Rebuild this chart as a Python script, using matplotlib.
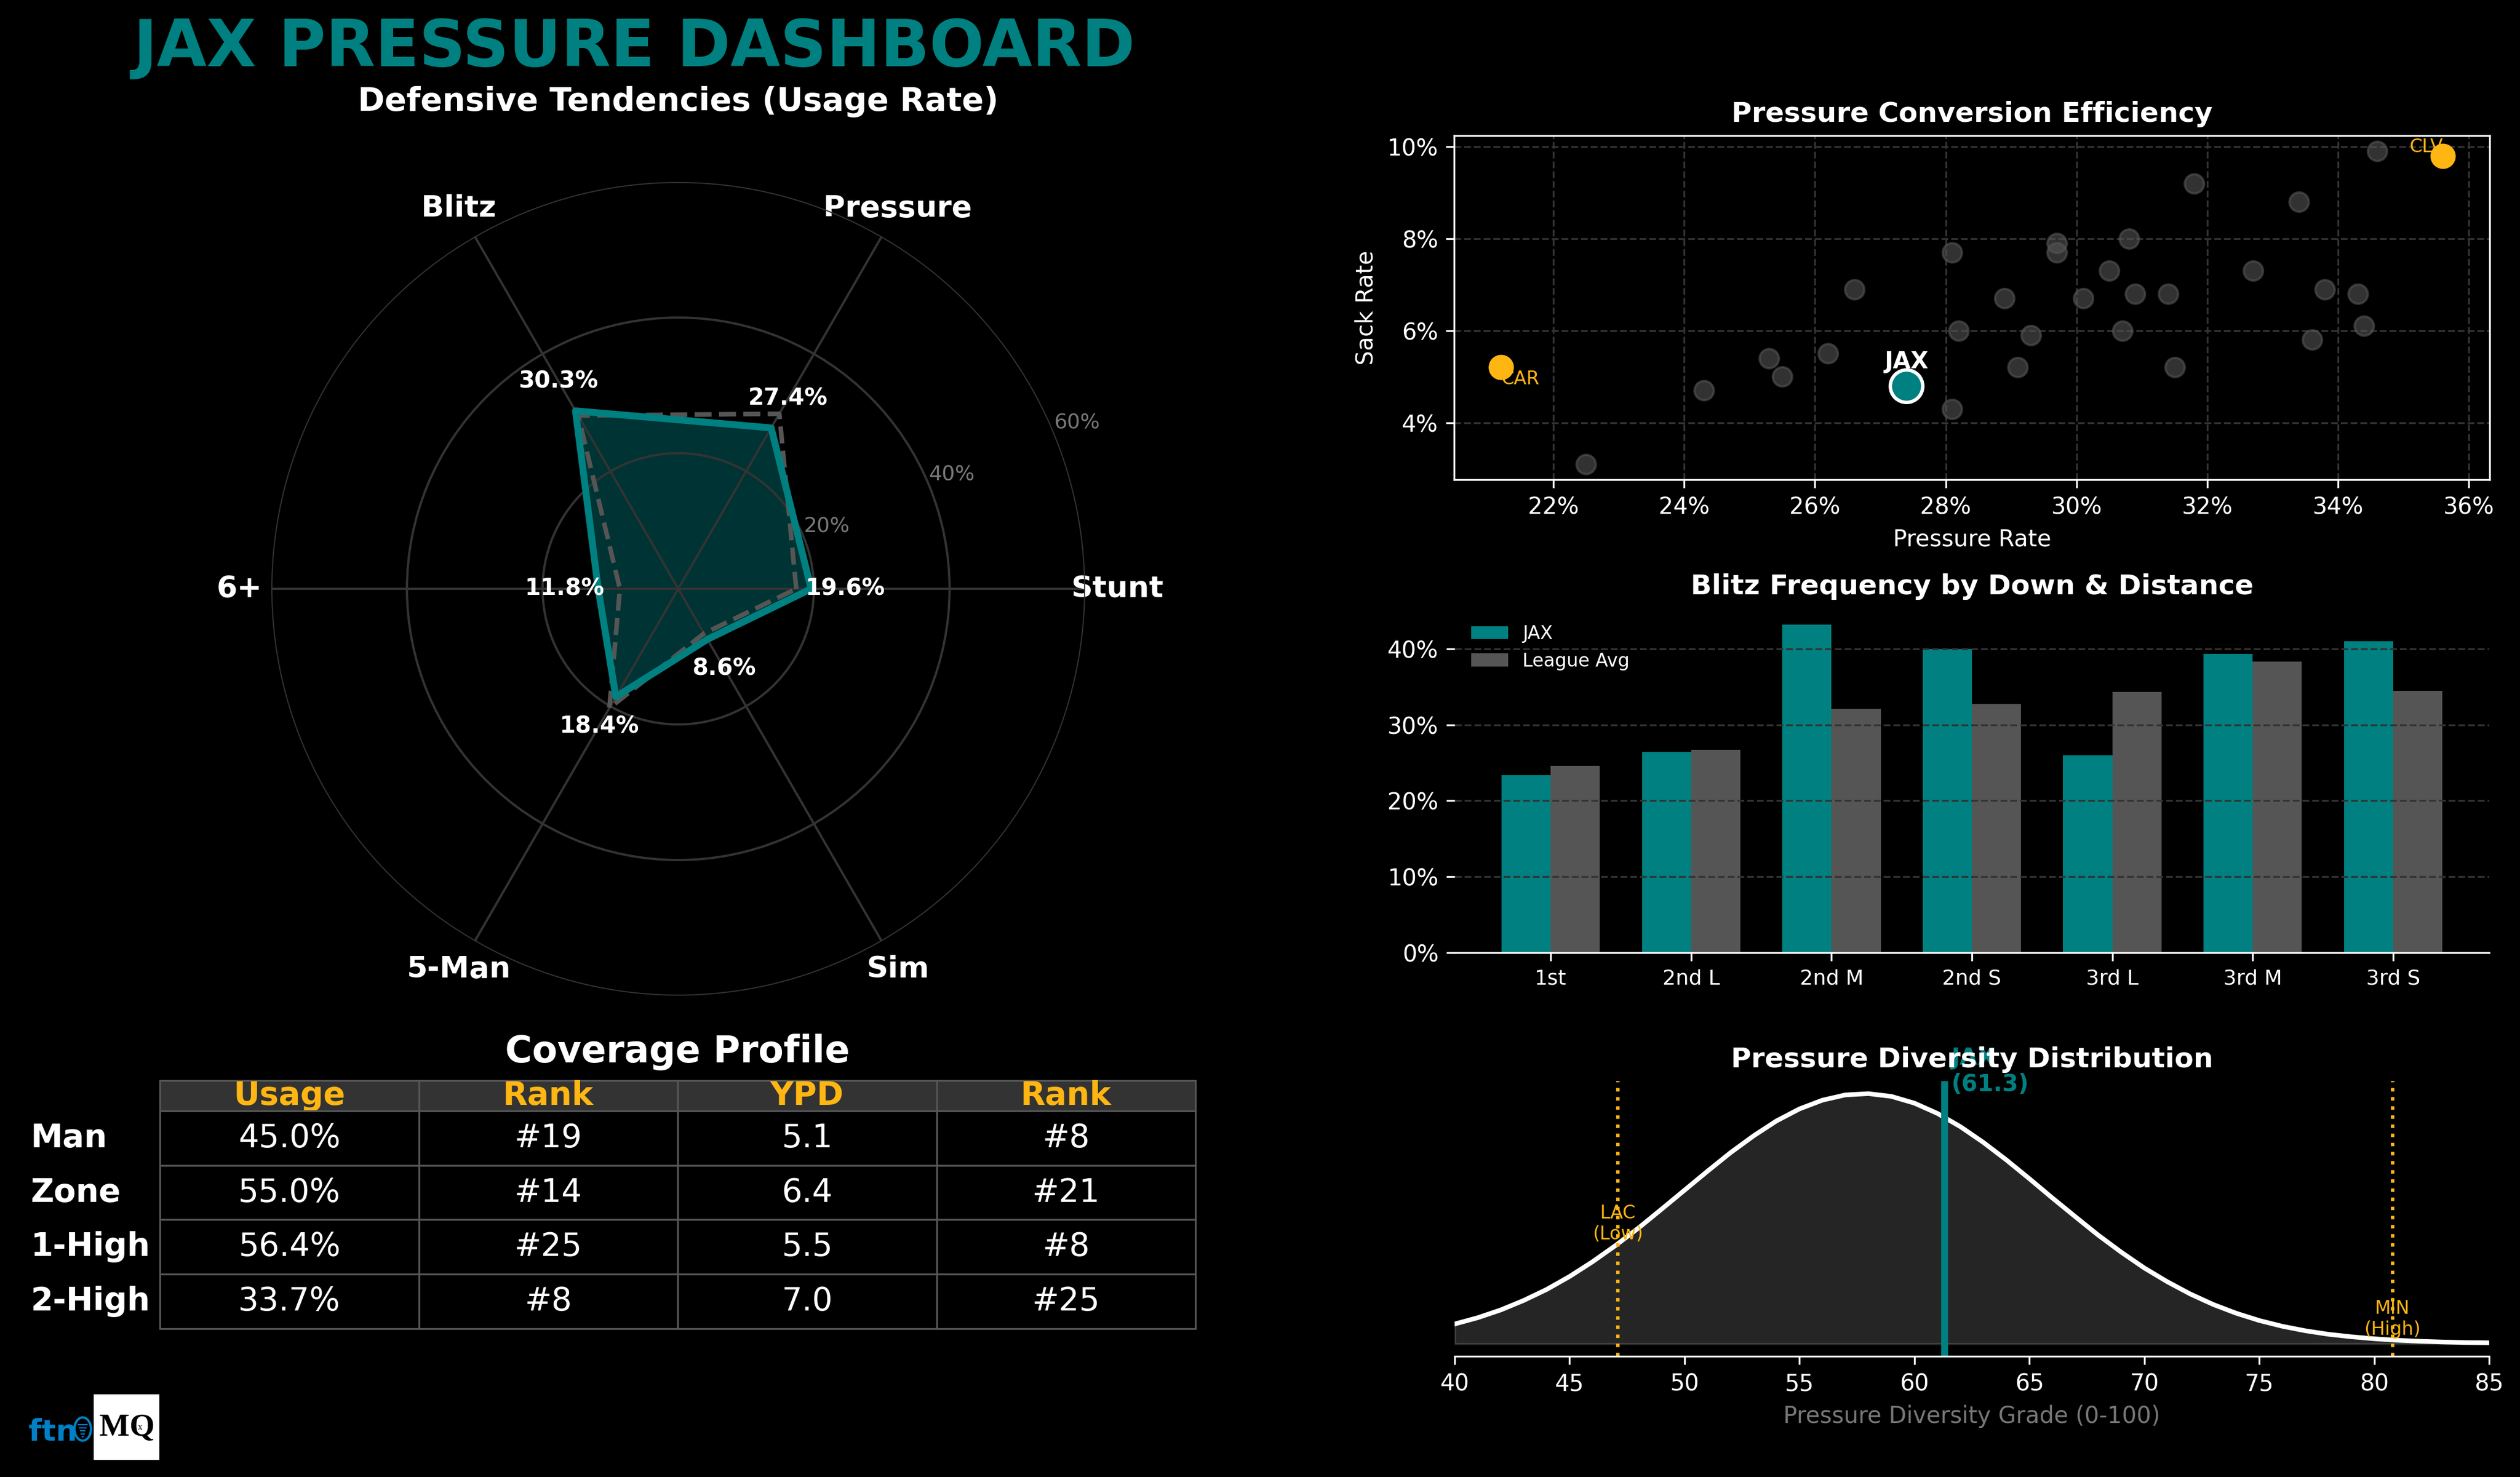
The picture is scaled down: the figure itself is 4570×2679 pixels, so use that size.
import numpy as np
import matplotlib
matplotlib.use("Agg")
from matplotlib import pyplot as plt
from matplotlib.patches import Ellipse, Rectangle
from matplotlib.ticker import FuncFormatter

TEAL = "#008080"
GOLD = "#FFB612"
GRID = "#333333"

# radar
radar_labels = ["Stunt", "Pressure", "Blitz", "6+", "5-Man", "Sim"]
jax_usage = [19.6, 27.4, 30.3, 11.8, 18.4, 8.6]
league_usage = [17.4, 29.8, 29.5, 8.6, 20.3, 7.6]

# scatter
other_pressure = [22.5, 24.3, 25.3, 25.5, 26.2, 26.6, 28.1, 28.2, 28.1, 28.9, 29.1, 29.3, 29.7, 29.7, 30.1,
                  30.5, 30.7, 30.8, 30.9, 31.4, 31.5, 31.8, 32.7, 33.4, 33.6, 33.8, 34.3, 34.4, 34.6]
other_sack = [3.1, 4.7, 5.4, 5.0, 5.5, 6.9, 7.7, 6.0, 4.3, 6.7, 5.2, 5.9, 7.9, 7.7, 6.7,
              7.3, 6.0, 8.0, 6.8, 6.8, 5.2, 9.2, 7.3, 8.8, 5.8, 6.9, 6.8, 6.1, 9.9]
car_point = (21.2, 5.2)
clv_point = (35.6, 9.8)
jax_point = (27.4, 4.8)

# bars
downs = ["1st", "2nd L", "2nd M", "2nd S", "3rd L", "3rd M", "3rd S"]
jax_blitz = [23.4, 26.4, 43.2, 40.0, 26.0, 39.3, 41.0]
league_blitz = [24.6, 26.7, 32.1, 32.7, 34.3, 38.3, 34.5]

# table
cov_rows = ["Man", "Zone", "1-High", "2-High"]
cov_cols = ["Usage", "Rank", "YPD", "Rank"]
cov_cells = [["45.0%", "#19", "5.1", "#8"],
             ["55.0%", "#14", "6.4", "#21"],
             ["56.4%", "#25", "5.5", "#8"],
             ["33.7%", "#8", "7.0", "#25"]]

grade = list(range(40, 86))
density = [.079, .104, .135, .173, .217, .269, .328, .393, .463, .538, .614, .690, .764, .831, .891, .939,
           .974, .995, 1.0, .989, .962, .921, .868, .805, .735, .660, .583, .508, .434, .366, .303, .248,
           .199, .157, .122, .093, .070, .052, .038, .028, .020, .014, .010, .007, .005, .004]
jax_grade = 61.3
lac_grade = 47.1
min_grade = 80.8

W, H = 4570, 2679
plt.rcParams["savefig.facecolor"] = "black"
fig = plt.figure(figsize=(W / 300, H / 300), dpi=300, facecolor="black")


def add_axes(left, top, right, bottom, **kwargs):
    """Axes from pixel edges of the picture"""
    ax = fig.add_axes([left / W, 1 - bottom / H, (right - left) / W, (bottom - top) / H], **kwargs)
    ax.set_facecolor("black")
    return ax


pct = FuncFormatter(lambda v, _: "%d%%" % v)

fig.text(1150 / W, 1 - 88 / H, "JAX PRESSURE DASHBOARD", color=TEAL, fontsize=28, fontweight="bold",
         ha="center", va="center")

# Radar
ax = add_axes(491, 330, 1969, 1806, projection="polar")
angles = np.deg2rad(np.arange(len(radar_labels)) * 60.0)
closed = np.append(angles, angles[0])
ax.plot(closed, league_usage + league_usage[:1], color="#555555", lw=2, ls="--")
ax.plot(closed, jax_usage + jax_usage[:1], color=TEAL, lw=3)
ax.fill(closed, jax_usage + jax_usage[:1], color=TEAL, alpha=0.4, lw=0)
for a, v in zip(angles, jax_usage):
    ax.text(a, v + 5, "%.1f%%" % v, color="white", fontsize=10, fontweight="bold", ha="center", va="center")
ax.set_ylim(0, 60)
ax.set_yticks([20, 40, 60])
ax.set_yticklabels(["20%", "40%", "60%"], color="#777777", fontsize=9)
ax.set_xticks(angles)
ax.set_xticklabels(radar_labels, color="white", fontsize=13, fontweight="bold")
ax.grid(color=GRID, lw=1)
ax.spines["polar"].set_visible(False)
ax.set_title("Defensive Tendencies (Usage Rate)", color="white", fontsize=14, fontweight="bold", pad=31)

# Scatter
ax = add_axes(2637, 246, 4515, 870)
ax.scatter(other_pressure, other_sack, s=70, color="#555555", alpha=0.6)
ax.scatter(*car_point, s=100, color=GOLD, zorder=3)
ax.scatter(*clv_point, s=100, color=GOLD, zorder=3)
ax.scatter(*jax_point, s=200, color=TEAL, edgecolor="white", linewidth=1.5, zorder=4)
ax.annotate("CAR", car_point, xytext=(0, -5), textcoords="offset points", color=GOLD, fontsize=8, va="center")
ax.annotate("CLV", clv_point, xytext=(0, 4), textcoords="offset points", color=GOLD, fontsize=8, ha="right",
            va="center")
ax.annotate("JAX", jax_point, xytext=(0, 5.5), textcoords="offset points", color="white", fontsize=10,
            fontweight="bold", ha="center", va="bottom")
ax.xaxis.set_major_formatter(pct)
ax.yaxis.set_major_formatter(pct)
ax.grid(color=GRID, ls="--", lw=0.8)
ax.set_axisbelow(True)
ax.tick_params(colors="white", labelsize=10)
for spine in ax.spines.values():
    spine.set_color("white")
ax.set_xlabel("Pressure Rate", color="white", fontsize=10)
ax.set_ylabel("Sack Rate", color="white", fontsize=10)
ax.set_title("Pressure Conversion Efficiency", color="white", fontsize=12, fontweight="bold")

# Bars
ax = add_axes(2638, 1103, 4514, 1728)
x = np.arange(len(downs))
ax.bar(x - 0.175, jax_blitz, 0.35, color=TEAL, label="JAX")
ax.bar(x + 0.175, league_blitz, 0.35, color="#555555", label="League Avg")
ax.set_xticks(x)
ax.set_xticklabels(downs)
ax.yaxis.set_major_formatter(pct)
ax.set_yticks([0, 10, 20, 30, 40])
ax.grid(axis="y", color=GRID, ls="--", lw=0.8)
ax.tick_params(axis="x", colors="white", labelsize=9)
ax.tick_params(axis="y", colors="white", labelsize=10)
for name in ["top", "right", "left"]:
    ax.spines[name].set_visible(False)
ax.spines["bottom"].set_color("white")
ax.legend(loc="upper left", frameon=False, labelcolor="white", fontsize=8)
ax.set_title("Blitz Frequency by Down & Distance", color="white", fontsize=12, fontweight="bold")

# Table, cell sizes in axes units so the auto sized row label column stays in step
ax = add_axes(290, 1960, 2168, 2410)
ax.axis("off")
tab = ax.table(cellText=cov_cells, rowLabels=cov_rows, colLabels=cov_cols, cellLoc="center", rowLoc="left",
               bbox=[0, 0, 1, 1])
tab.auto_set_font_size(False)
tab.set_fontsize(14)
for (r, c), cell in tab.get_celld().items():
    cell.set_height(55.0 / 450 if r == 0 else 99.0 / 450)
    if c >= 0:
        cell.set_width(0.25)
    cell.set_linewidth(0.8)
    if r == 0:
        cell.set_facecolor("#333333")
        cell.set_edgecolor("#555555")
        cell.get_text().set_color(GOLD)
        cell.get_text().set_fontweight("bold")
    elif c == -1:
        cell.set_facecolor("black")
        cell.set_edgecolor("black")
        cell.get_text().set_color("white")
        cell.get_text().set_fontweight("bold")
    else:
        cell.set_facecolor("black")
        cell.set_edgecolor("#555555")
        cell.get_text().set_color("white")
ax.set_title("Coverage Profile", color="white", fontsize=16, fontweight="bold", pad=8)

# Diversity distribution
ax = add_axes(2638, 1961, 4514, 2460)
ax.fill_between(grade, 0, density, color="white", alpha=0.15)
ax.plot(grade, density, color="white", lw=2)
ax.set_xlim(40, 85)
ax.set_ylim(-0.05, 1.05)
ax.axvline(jax_grade, color=TEAL, lw=3)
ax.axvline(lac_grade, color=GOLD, lw=1.5, ls=":")
ax.axvline(min_grade, color=GOLD, lw=1.5, ls=":")
ax.text(jax_grade + 0.3, 1.09, "JAX\n(%.1f)" % jax_grade, color=TEAL, fontsize=10, fontweight="bold",
        ha="left", va="center", clip_on=False)
ax.text(lac_grade, 0.48, "LAC\n(Low)", color=GOLD, fontsize=8, ha="center", va="center")
ax.text(min_grade, 0.098, "MIN\n(High)", color=GOLD, fontsize=8, ha="center", va="center")
ax.set_yticks([])
ax.tick_params(axis="x", colors="white", labelsize=10)
for name in ["top", "right", "left"]:
    ax.spines[name].set_visible(False)
ax.spines["bottom"].set_color("white")
ax.set_xlabel("Pressure Diversity Grade (0-100)", color="#777777", fontsize=10)
ax.set_title("Pressure Diversity Distribution", color="white", fontsize=12, fontweight="bold")

# Logos, in picture pixels
logo = fig.add_axes([0, 0, 1, 1], zorder=10)
logo.set_xlim(0, W)
logo.set_ylim(H, 0)
logo.axis("off")
logo.text(52, 2613, "ftn", color="#0080C6", fontsize=13, fontweight="bold", va="baseline", ha="left")
logo.add_patch(Ellipse((150, 2592), 30, 42, fill=False, edgecolor="#0080C6", lw=1))
for i, half in enumerate([8, 6, 4, 3, 1]):
    logo.plot([150 - half, 150 + half], [2584 + i * 5.5] * 2, color="#0080C6", lw=0.5)
logo.add_patch(Rectangle((170, 2529), 119, 119, facecolor="white", edgecolor="none"))
logo.text(230, 2590, "MQ", color="black", fontsize=14, fontweight="bold", family="Liberation Serif",
          ha="center", va="center")
logo.text(254, 2589, "x", color="black", fontsize=4, family="Liberation Serif", ha="center", va="center")

fig.savefig("out.png", dpi=300, facecolor="black")
